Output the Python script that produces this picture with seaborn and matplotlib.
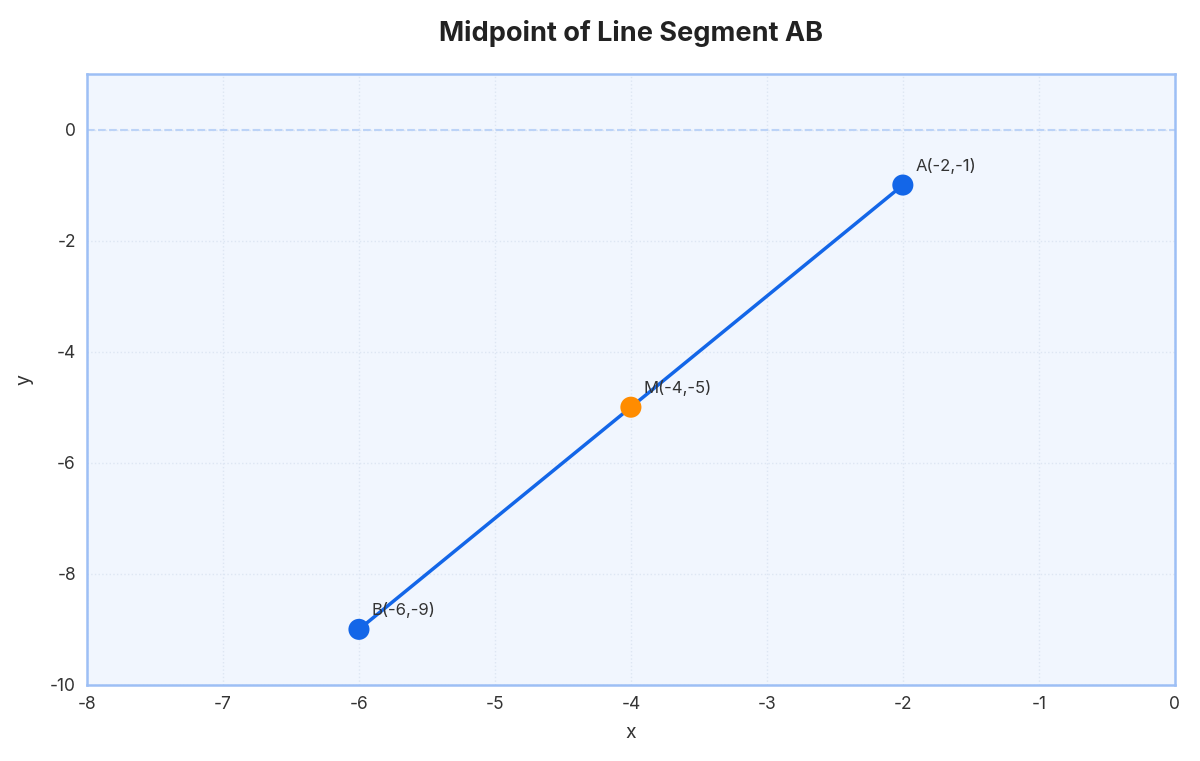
import matplotlib
matplotlib.use("Agg")
import matplotlib.pyplot as plt
import seaborn as sns
import pandas as pd

# Data
point_names = ["A", "M", "B"]
point_x = [-2, -4, -6]
point_y = [-1, -5, -9]
point_roles = ["endpoint", "midpoint", "endpoint"]
segment_x = [-6, -2]
segment_y = [-9, -1]
x_ticks = [-8, -7, -6, -5, -4, -3, -2, -1, 0]
y_ticks = [-10, -8, -6, -4, -2, 0]

sns.set_theme(style="white")
plt.rcParams['font.family'] = ['Inter', 'DejaVu Sans']
plt.rcParams['axes.unicode_minus'] = False

fig = plt.figure(figsize=(12, 7.61), dpi=100)
ax = fig.add_axes([0.0725, 0.1, 0.9065, 0.8028])
ax.set_facecolor("#f1f6fe")

seg = pd.DataFrame({"x": segment_x, "y": segment_y})
sns.lineplot(data=seg, x="x", y="y", ax=ax, color="#1366e8", linewidth=2.5, zorder=3)

pts = pd.DataFrame({"x": point_x, "y": point_y, "role": point_roles, "name": point_names})
sns.scatterplot(data=pts, x="x", y="y", hue="role",
                palette={"endpoint": "#1366e8", "midpoint": "#ff8c00"},
                s=230, edgecolor="none", ax=ax, zorder=4, legend=False)

for n, x, y in zip(point_names, point_x, point_y):
    ax.annotate(f"{n}({x},{y})", (x, y), xytext=(9, 8), textcoords="offset points",
                fontsize=12, color="#333333", ha="left", va="bottom", zorder=5)

ax.axhline(0, color="#bcd3f7", linestyle="--", linewidth=1.5, zorder=1)

ax.set_xlim(-8, 0)
ax.set_ylim(-10, 1)
ax.set_xticks(x_ticks)
ax.set_yticks(y_ticks)
ax.grid(True, linestyle=":", color="#dde6f3", linewidth=1)
ax.tick_params(length=0, labelsize=12.5, labelcolor="#333333", pad=8)
for s in ax.spines.values():
    s.set_color("#9dbff5")
    s.set_linewidth(1.8)

ax.set_xlabel("x", fontsize=14, color="#333333", labelpad=8)
ax.set_ylabel("y", fontsize=14, color="#333333", labelpad=12)
ax.set_title("Midpoint of Line Segment AB", fontsize=19.5, fontweight="bold",
             color="#222222", pad=24)

fig.savefig("out.png", dpi=100)
